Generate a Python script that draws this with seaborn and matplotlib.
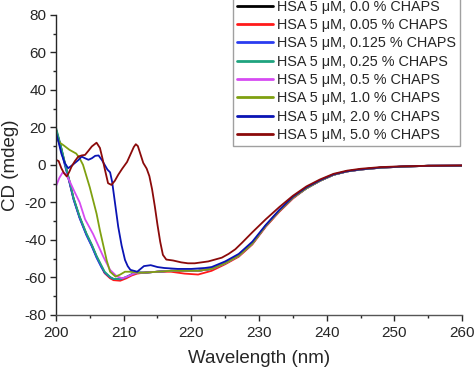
import numpy as np
import pandas as pd
import matplotlib
matplotlib.use("Agg")
import matplotlib.pyplot as plt
import seaborn as sns

sns.set_style("ticks")
plt.rcParams['font.family'] = ['Liberation Sans', 'DejaVu Sans']
plt.rcParams['axes.unicode_minus'] = False

labels = ["HSA 5 \u03bcM, 0.0 % CHAPS", "HSA 5 \u03bcM, 0.05 % CHAPS",
          "HSA 5 \u03bcM, 0.125 % CHAPS", "HSA 5 \u03bcM, 0.25 % CHAPS",
          "HSA 5 \u03bcM, 0.5 % CHAPS", "HSA 5 \u03bcM, 1.0 % CHAPS",
          "HSA 5 \u03bcM, 2.0 % CHAPS", "HSA 5 \u03bcM, 5.0 % CHAPS"]
colors = ["#000000", "#FF1A1A", "#2A3CF0", "#1FA37F",
          "#D64BF2", "#7FA010", "#0A14B4", "#8B0A0A"]

# shared tail (212-260 nm)
tail_wl = [213, 215, 217, 219, 221, 223, 225, 227, 229, 231, 233, 235,
           237, 239, 241, 243, 245, 248, 251, 255, 260]
tail_cd = [-57.5, -57, -56.5, -56.5, -56.5, -55.5, -52.5, -48.5, -42, -32.5, -24.5, -17.5,
           -12.5, -8.5, -5.3, -3.5, -2.5, -1.5, -1, -0.5, -0.5]
tail_cd_red = [-57.5, -57, -57, -58, -58.5, -56.5, -53, -49, -42.5, -33, -25, -18,
               -12.5, -8.5, -5.3, -3.5, -2.5, -1.5, -1, -0.5, -0.5]

head_wl_a = [200, 200.7, 201.3, 202, 202.6, 203.5, 204.5, 205.3, 206, 206.7,
             207.2, 208, 208.5, 209.5, 210.4, 211.2, 212]
cd_000 = [19, 10, 1, -9, -18, -28, -37, -43, -49, -54,
          -57.5, -60, -61, -61.3, -60, -58.5, -57.5]
cd_005 = [19, 10, 1, -9, -18, -28, -37, -43, -49, -54,
          -57.8, -60.5, -61.5, -61.8, -60.5, -59, -58]
cd_0125 = [17, 9, 0, -9.5, -18.5, -28.5, -37.5, -43.5, -49.5, -54.5,
           -57.5, -60, -60.8, -61, -59.8, -58.3, -57.5]
cd_025 = [20, 10.5, 1.5, -8.5, -17.5, -27.5, -36.5, -42.5, -48.5, -53.5,
          -57, -59.8, -60.8, -61, -59.8, -58.3, -57.3]

head_wl_m = [200, 200.5, 201, 201.5, 202, 202.7, 203.5, 204.3, 205.5, 206.5,
             207, 208, 209, 209.8, 210.6, 211.5, 212.3]
cd_050 = [-11.5, -7, -4, -5, -8.5, -14, -20, -29, -37, -45,
          -49, -56, -59.5, -60.5, -59.5, -58, -57.5]

head_wl_o = [200, 200.5, 201.1, 202, 203, 203.5, 204, 204.5, 205, 205.5, 206,
             206.5, 207, 207.5, 208, 208.8, 209.5, 210.2, 211, 212]
cd_100 = [15, 12, 10.5, 8, 6, 3.5, 0, -6, -12, -19, -26,
          -35, -43, -51, -57, -59.6, -58.5, -57, -57, -57.5]

wl_200 = [200, 200.4, 200.8, 201.3, 201.8, 202.3, 202.8, 203.3, 203.8, 204.3,
          204.8, 205.3, 205.8, 206.3, 206.8, 207.2, 207.6, 208, 208.3, 208.6,
          209.2, 209.7, 210.2, 210.6, 211, 212, 212.5, 213, 214, 215, 216, 218,
          220, 222, 223, 225, 227, 229, 231, 233, 235, 237, 239, 241, 243, 245,
          248, 251, 255, 260]
cd_200 = [17, 12, 6, 1, -1.8, -0.5, 1, 2.5, 4.4, 3.5,
          2.7, 3.5, 4.8, 5, 2.5, 0, -2.5, -4, -9, -17,
          -33, -43, -50.7, -54, -56, -57, -55.5, -54, -53.5, -54.5, -55, -55.5,
          -55.5, -55, -54.5, -51.5, -47.5, -41, -32, -24, -17, -12, -8.2, -5.1, -3.4, -2.4,
          -1.4, -0.9, -0.5, -0.4]

wl_500 = [200, 200.4, 200.8, 201.2, 201.6, 202, 202.3, 202.8, 203.3, 203.8,
          204.3, 204.8, 205.3, 206, 206.5, 206.9, 207.2, 207.7, 208.2, 208.7,
          209.2, 209.8, 210.5, 211, 211.5, 211.8, 212.1, 212.5, 212.9, 213.4,
          213.8, 214.2, 214.6, 215, 215.4, 215.8, 216.3, 217.3, 218.5, 219.5,
          220.5, 221.5, 222.5, 223.5, 224.5, 225.5, 226.5, 227.5, 229, 231,
          233, 235, 237, 239, 241, 243, 245, 248, 251, 255, 260]
cd_500 = [2.7, 2, -1.8, -4.5, -6.2, -3.5, -1, 2, 4.4, 5,
          5.3, 7.5, 9.8, 11.8, 9, 3, -2, -9.8, -10.7, -8.5,
          -5.3, -2, 1.5, 5.5, 9.5, 11, 10, 5.5, 1, -2,
          -6, -13, -22, -32, -41, -48, -50.5, -51, -52, -52.5,
          -52.5, -52, -51.5, -50.5, -49.5, -47.5, -45, -41.5, -36, -29,
          -22.5, -16.5, -11.5, -7.8, -4.8, -3.1, -2.1, -1.2, -0.8, -0.5, -0.3]

series = [
    (head_wl_a + tail_wl, cd_000 + tail_cd),
    (head_wl_a + tail_wl, cd_005 + tail_cd_red),
    (head_wl_a + tail_wl, cd_0125 + tail_cd),
    (head_wl_a + tail_wl, cd_025 + tail_cd),
    (head_wl_m + tail_wl, cd_050 + tail_cd),
    (head_wl_o + tail_wl, cd_100 + tail_cd),
    (wl_200, cd_200),
    (wl_500, cd_500),
]

frames = []
for lab, (w, c) in zip(labels, series):
    frames.append(pd.DataFrame({"wl": w, "cd": c, "sample": lab}))
df = pd.concat(frames, ignore_index=True)

fig = plt.figure(figsize=(4.74, 3.70), dpi=100)
ax = fig.add_axes([0.118, 0.149, 0.857, 0.811])

sns.lineplot(data=df, x="wl", y="cd", hue="sample", hue_order=labels,
             palette=colors, sort=False, estimator=None, linewidth=1.3, ax=ax)

ax.set_xlim(200, 260)
ax.set_ylim(-80, 80)
ax.set_xticks(np.arange(200, 261, 10))
ax.set_xticks(np.arange(200, 261, 5), minor=True)
ax.set_yticks(np.arange(-80, 81, 20))
ax.set_yticks(np.arange(-80, 81, 10), minor=True)
ax.tick_params(axis='both', which='major', direction='out', length=4, width=1,
               labelsize=11, pad=3)
ax.tick_params(axis='x', which='major', pad=4)
ax.tick_params(axis='both', which='minor', direction='out', length=2.5, width=1)
ax.set_xlabel("Wavelength (nm)", fontsize=13.5, labelpad=7)
ax.set_ylabel("CD (mdeg)", fontsize=13.5, labelpad=4)
sns.despine(ax=ax)
ax.spines['left'].set_linewidth(1)
ax.spines['bottom'].set_linewidth(1)
ax.spines['bottom'].set_color('#555555')

sns.move_legend(ax, "upper right", bbox_to_anchor=(0.995, 1.065), title=None,
                frameon=True, fancybox=False, edgecolor='#888888',
                fontsize=10.4, handlelength=2.5, handletextpad=0.25,
                labelspacing=0.3, borderpad=0.3, borderaxespad=0)
leg = ax.get_legend()
leg.get_frame().set_linewidth(1)
for h in leg.get_lines():
    h.set_linewidth(2)

fig.savefig("out.png", dpi=100)
